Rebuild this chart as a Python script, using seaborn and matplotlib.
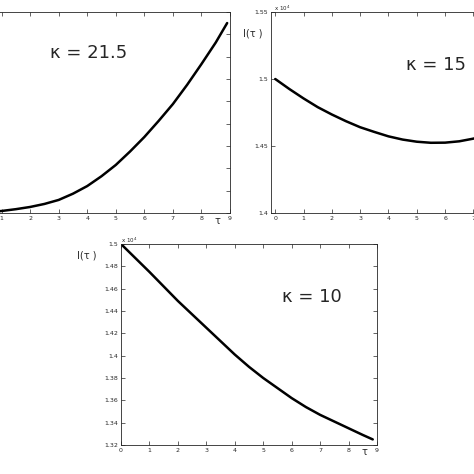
import matplotlib
matplotlib.use("Agg")
import matplotlib.pyplot as plt
import seaborn as sns

sns.set_style("ticks")
plt.rcParams['font.family'] = ['DejaVu Sans']

# panel data
tau_a = [0, 0.5, 1, 1.5, 2, 2.5, 3, 3.5, 4, 4.5, 5, 5.5, 6, 6.5, 7, 7.5, 8, 8.5, 8.9]
val_a = [0.0, 0.003, 0.01, 0.019, 0.03, 0.045, 0.065, 0.096, 0.134, 0.183, 0.239, 0.306, 0.378, 0.458, 0.542, 0.638, 0.741, 0.848, 0.945]

tau_b = [0, 0.5, 1, 1.5, 2, 2.5, 3, 3.5, 4, 4.5, 5, 5.5, 6, 6.5, 7, 7.5, 8, 9]
val_b = [1.50, 1.4925, 1.4855, 1.479, 1.4735, 1.4685, 1.464, 1.4605, 1.4572, 1.4548, 1.4532, 1.4524, 1.4525, 1.4535, 1.4555, 1.4585, 1.4625, 1.472]

tau_c = [0, 0.5, 1, 1.5, 2, 2.5, 3, 3.5, 4, 4.5, 5, 5.5, 6, 6.5, 7, 7.5, 8, 8.5, 8.85]
val_c = [1.50, 1.4875, 1.475, 1.462, 1.449, 1.437, 1.425, 1.413, 1.401, 1.390, 1.380, 1.371, 1.362, 1.354, 1.347, 1.341, 1.335, 1.329, 1.325]

W = 474.0


def box(x0, y0, x1, y1):
    return [x0 / W, 1 - y1 / W, (x1 - x0) / W, (y1 - y0) / W]


def style(ax):
    ax.tick_params(direction="in", top=True, right=True, labelsize=4.5, length=3, width=0.5, pad=2)
    for s in ax.spines.values():
        s.set_linewidth(0.6)
    ax.set_xlabel("")
    ax.set_ylabel("")


fig = plt.figure(figsize=(4.74, 4.74), dpi=100)

ax1 = fig.add_axes(box(-27, 12, 230, 213))
sns.lineplot(x=tau_a, y=val_a, ax=ax1, color="black", linewidth=1.8)
ax1.set_xlim(0, 9)
ax1.set_ylim(0, 1)
ax1.set_xticks(range(10))
ax1.set_yticks([i / 9 for i in range(10)])
ax1.set_yticklabels([])
style(ax1)
ax1.text(0.30, 0.77, "κ = 21.5", transform=ax1.transAxes, fontsize=13)
ax1.text(8.45, -0.015, "τ", fontsize=7, va="top")

ax2 = fig.add_axes(box(271, 12, 530, 213))
sns.lineplot(x=tau_b, y=val_b, ax=ax2, color="black", linewidth=1.8)
ax2.set_xlim(-0.15, 9)
ax2.set_ylim(1.4, 1.55)
ax2.set_xticks(range(10))
ax2.set_yticks([1.4, 1.45, 1.5, 1.55])
ax2.set_yticklabels(["1.4", "1.45", "1.5", "1.55"])
style(ax2)
ax2.text(0.01, 1.005, "x 10$^4$", transform=ax2.transAxes, fontsize=4)
ax2.text(-0.11, 0.88, "I(τ )", transform=ax2.transAxes, fontsize=7)
ax2.text(0.52, 0.71, "κ = 15", transform=ax2.transAxes, fontsize=13)

ax3 = fig.add_axes(box(121, 244, 377, 445))
sns.lineplot(x=tau_c, y=val_c, ax=ax3, color="black", linewidth=1.8)
ax3.set_xlim(0, 9)
ax3.set_ylim(1.32, 1.5)
ax3.set_xticks(range(10))
ax3.set_yticks([1.32, 1.34, 1.36, 1.38, 1.40, 1.42, 1.44, 1.46, 1.48, 1.5])
ax3.set_yticklabels(["1.32", "1.34", "1.36", "1.38", "1.4", "1.42", "1.44", "1.46", "1.48", "1.5"])
style(ax3)
ax3.text(0.0, 1.005, "x 10$^4$", transform=ax3.transAxes, fontsize=4)
ax3.text(-0.17, 0.93, "I(τ )", transform=ax3.transAxes, fontsize=7)
ax3.text(0.63, 0.71, "κ = 10", transform=ax3.transAxes, fontsize=13)
ax3.text(8.45, 1.318, "τ", fontsize=7, va="top")

fig.savefig("out.png", dpi=100)
